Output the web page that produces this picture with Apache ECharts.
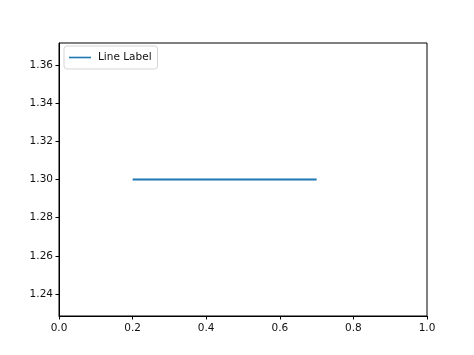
<!DOCTYPE html>
<html>
<head>
<meta charset="utf-8">
<script src="https://cdn.jsdelivr.net/npm/echarts@6/dist/echarts.min.js"></script>
<style>html,body{margin:0;padding:0;background:#fff}#c{width:474px;height:355px}</style>
</head>
<body>
<div id="c"></div>
<script>
var xValues = [0.2, 0.7];
var yValues = [1.3, 1.3];
var seriesName = 'Line Label';
var xTicks = [0, 0.2, 0.4, 0.6, 0.8, 1.0];
var yTicks = [1.24, 1.26, 1.28, 1.30, 1.32, 1.34, 1.36];
var yMin = 1.2285, yMax = 1.3715;

var chart = echarts.init(document.getElementById('c'));
var font = 'DejaVu Sans';
chart.setOption({
  animation: false,
  grid: {left: 59, right: 47, top: 43, bottom: 39, show: true, borderColor: '#000', borderWidth: 1},
  legend: {
    left: 64, top: 46, padding: [6, 6, 6, 5], borderColor: '#d5d5d5', borderWidth: 1, borderRadius: 3,
    backgroundColor: '#fff', icon: 'rect', itemWidth: 22, itemHeight: 1.6,
    textStyle: {fontFamily: font, fontSize: 10.5, color: '#111', padding: [0, 0, 0, 2]},
    data: [seriesName]
  },
  xAxis: {
    type: 'value', min: 0, max: 1,
    axisLine: {lineStyle: {color: '#000', width: 1}},
    axisTick: {show: true, customValues: xTicks, length: 3.5, lineStyle: {color: '#000'}},
    axisLabel: {customValues: xTicks, formatter: function (v) { return v.toFixed(1); }, fontFamily: font, fontSize: 10.5, color: '#111', margin: 7},
    splitLine: {show: false}
  },
  yAxis: {
    type: 'value', min: yMin, max: yMax,
    axisLine: {show: true, lineStyle: {color: '#000', width: 1}},
    axisTick: {show: true, customValues: yTicks, length: 3.5, lineStyle: {color: '#000'}},
    axisLabel: {customValues: yTicks, formatter: function (v) { return v.toFixed(2); }, fontFamily: font, fontSize: 10.5, color: '#111', margin: 6},
    splitLine: {show: false}
  },
  series: [{
    name: seriesName, type: 'line', symbol: 'none',
    lineStyle: {color: '#1f77b4', width: 1.8}, itemStyle: {color: '#1f77b4'},
    data: xValues.map(function (x, i) { return [x, yValues[i]]; })
  }]
});
</script>
</body>
</html>
